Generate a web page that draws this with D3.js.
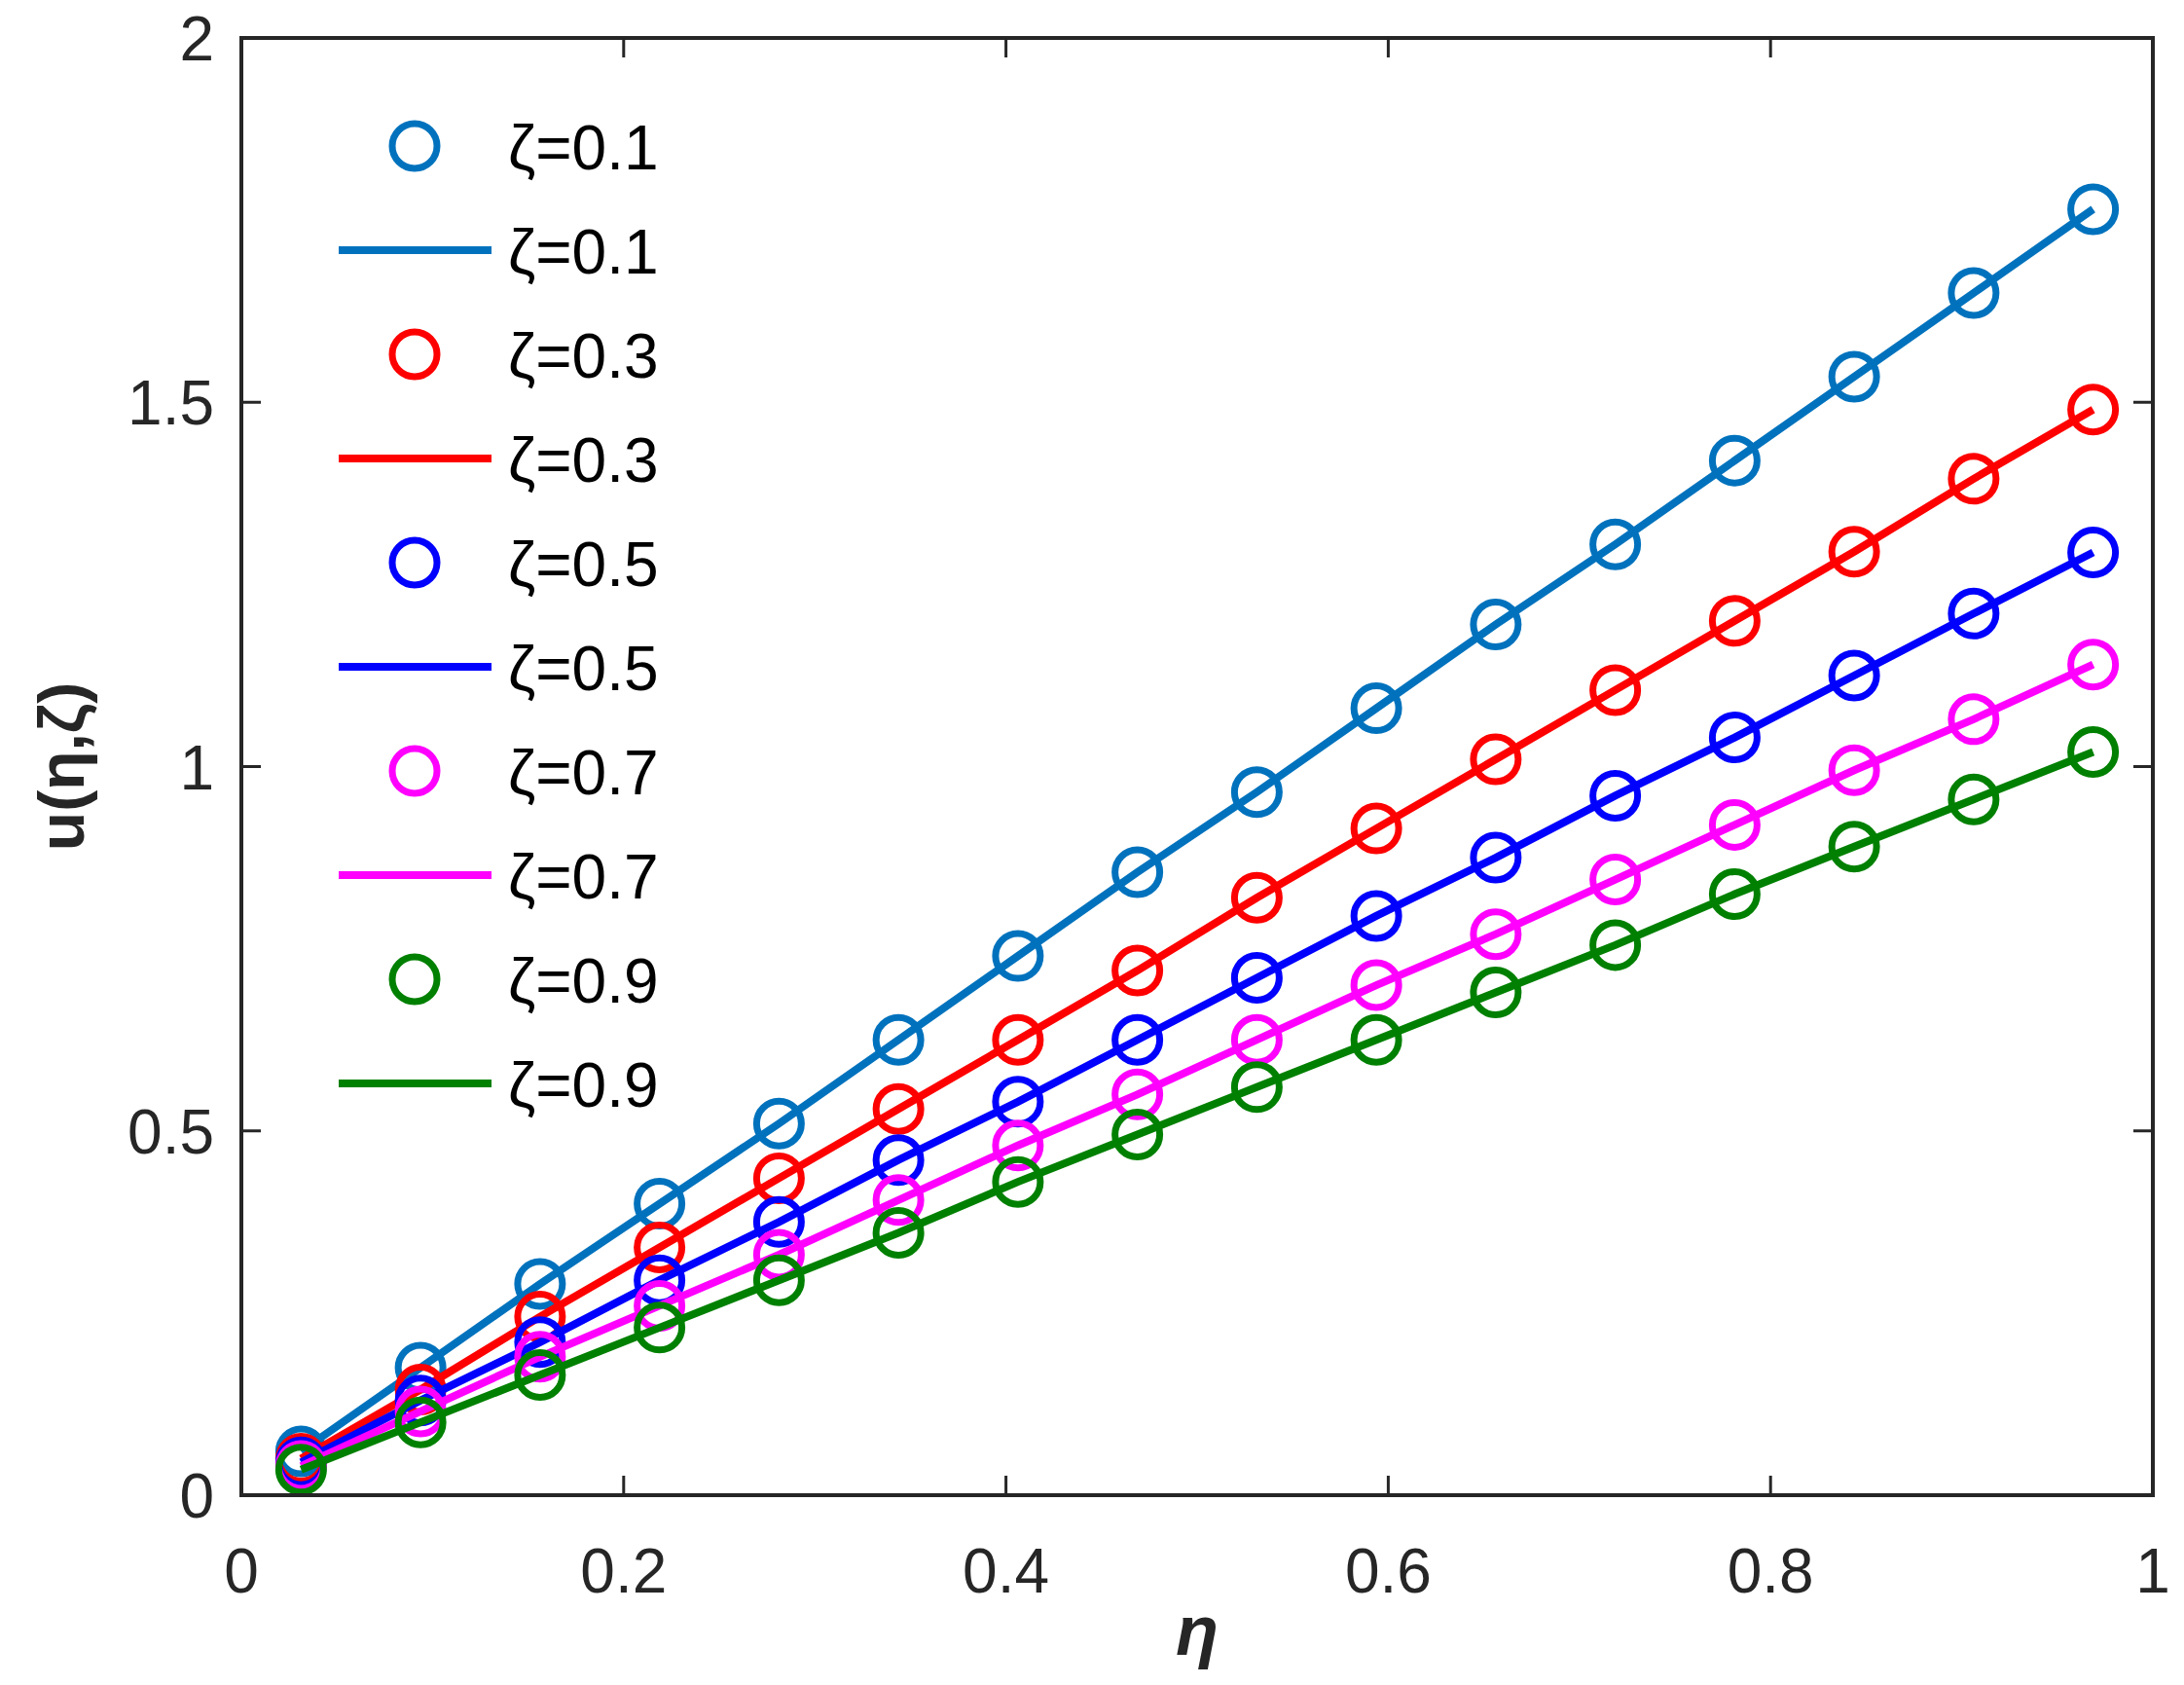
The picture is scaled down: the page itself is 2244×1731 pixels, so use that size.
<!DOCTYPE html>
<html><head><meta charset="utf-8">
<script src="https://cdn.jsdelivr.net/npm/d3@7"></script>
<style>body{margin:0;background:#fff}text{font-family:"Liberation Sans",Arial,sans-serif}</style>
</head><body>
<svg id="c" width="2244" height="1731"></svg>
<script>
var eta = d3.range(16).map(function (i) { return (i + 0.5) / 16; });
var zetas = ["0.1", "0.3", "0.5", "0.7", "0.9"];
var colors = ["#0072BD", "#FF0000", "#0000FF", "#FF00FF", "#008000"];
var u01 = [0.06,0.175,0.29,0.40,0.51,0.625,0.74,0.855,0.965,1.08,1.195,1.305,1.42,1.535,1.65,1.765];
var u03 = [0.05,0.145,0.245,0.34,0.435,0.53,0.625,0.72,0.82,0.915,1.01,1.105,1.2,1.295,1.395,1.49];
var u05 = [0.045,0.13,0.21,0.295,0.375,0.46,0.54,0.625,0.71,0.795,0.875,0.96,1.04,1.125,1.21,1.294];
var u07 = [0.04,0.115,0.19,0.26,0.33,0.405,0.48,0.55,0.625,0.70,0.77,0.845,0.92,0.995,1.065,1.14];
var u09 = [0.035,0.1,0.165,0.23,0.295,0.36,0.43,0.495,0.56,0.625,0.69,0.755,0.825,0.89,0.955,1.02];
var series = [u01, u03, u05, u07, u09];
var xTicks = [0, 0.2, 0.4, 0.6, 0.8, 1];
var yTicks = [0, 0.5, 1, 1.5, 2];

var L = 248, R = 2212, T = 39, B = 1536;
var svg = d3.select("#c");
var x = d3.scaleLinear().domain([0, 1]).range([L, R]);
var y = d3.scaleLinear().domain([0, 2]).range([B, T]);
var ink = "#262626";

var line = d3.line().x(function (d, i) { return x(eta[i]); }).y(function (d) { return y(d); });
var plot = svg.append("g");
series.forEach(function (s, k) {
  plot.append("path").attr("d", line(s)).attr("fill", "none")
    .attr("stroke", colors[k]).attr("stroke-width", 8);
  plot.selectAll(null).data(s).join("circle")
    .attr("cx", function (d, i) { return x(eta[i]); })
    .attr("cy", function (d) { return y(d); })
    .attr("r", 23).attr("fill", "none").attr("stroke", colors[k]).attr("stroke-width", 7);
});

var tl = 20;
var ax = svg.append("g");
ax.append("rect").attr("x", L).attr("y", T).attr("width", R - L).attr("height", B - T)
  .attr("fill", "none").attr("stroke", ink).attr("stroke-width", 4);
xTicks.forEach(function (t) {
  ax.append("line").attr("x1", x(t)).attr("x2", x(t)).attr("y1", B).attr("y2", B - tl).attr("stroke", ink).attr("stroke-width", 3);
  ax.append("line").attr("x1", x(t)).attr("x2", x(t)).attr("y1", T).attr("y2", T + tl).attr("stroke", ink).attr("stroke-width", 3);
  ax.append("text").attr("x", x(t)).attr("y", B + 100).attr("text-anchor", "middle")
    .attr("font-size", 64).attr("fill", ink).text(String(t));
});
yTicks.forEach(function (t) {
  ax.append("line").attr("y1", y(t)).attr("y2", y(t)).attr("x1", L).attr("x2", L + tl).attr("stroke", ink).attr("stroke-width", 3);
  ax.append("line").attr("y1", y(t)).attr("y2", y(t)).attr("x1", R).attr("x2", R - tl).attr("stroke", ink).attr("stroke-width", 3);
  ax.append("text").attr("x", L - 28).attr("y", y(t) + 23).attr("text-anchor", "end")
    .attr("font-size", 64).attr("fill", ink).text(String(t));
});
svg.append("text").attr("x", (L + R) / 2).attr("y", 1700).attr("text-anchor", "middle")
  .attr("font-size", 72).attr("font-weight", "bold").attr("font-style", "italic")
  .attr("font-family", "DejaVu Serif, serif").attr("fill", ink).text("η");
svg.append("text").attr("transform", "translate(86," + ((T + B) / 2) + ") rotate(-90)")
  .attr("text-anchor", "middle").attr("font-size", 66).attr("font-weight", "bold").attr("fill", ink)
  .text("u(η,ζ)");

var lg = svg.append("g");
zetas.forEach(function (z, k) {
  var y1 = 150 + k * 2 * 107, y2 = y1 + 107;
  lg.append("circle").attr("cx", 426).attr("cy", y1).attr("r", 23).attr("fill", "none")
    .attr("stroke", colors[k]).attr("stroke-width", 7);
  lg.append("line").attr("x1", 348).attr("x2", 505).attr("y1", y2).attr("y2", y2)
    .attr("stroke", colors[k]).attr("stroke-width", 8);
  [y1, y2].forEach(function (yy) {
    lg.append("text").attr("x", 522).attr("y", yy + 24).attr("font-size", 64).attr("fill", "#000")
      .text("ζ=" + z);
  });
});
</script>
</body></html>
